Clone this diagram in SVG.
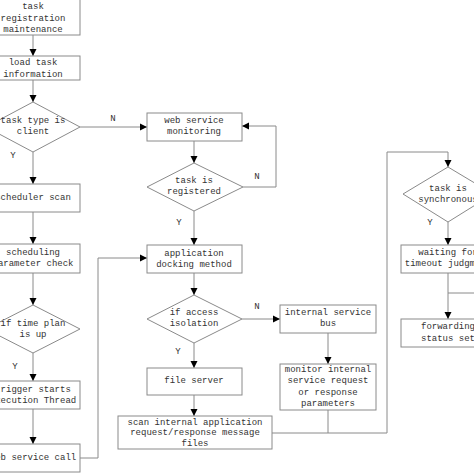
<svg xmlns="http://www.w3.org/2000/svg" width="474" height="474" viewBox="0 0 474 474">
<defs>
<style>
.b{fill:#fff;stroke:#8a8a8a;stroke-width:1}
.c{fill:none;stroke:#8a8a8a;stroke-width:1}
text{font-family:"Liberation Mono","DejaVu Sans Mono",monospace;font-size:9px;fill:#333;text-anchor:middle;dominant-baseline:central}
</style>
<marker id="ah" markerUnits="userSpaceOnUse" markerWidth="8" markerHeight="8" refX="7" refY="4" orient="auto">
<path d="M0,0.5 L7,4 L0,7.5 z" fill="#000"/>
</marker>
</defs>
<rect width="474" height="474" fill="#fff"/>
<g id="connectors">
<path class="c" d="M33,35 V56" marker-end="url(#ah)"/>
<path class="c" d="M33,80 V102" marker-end="url(#ah)"/>
<path class="c" d="M33,152 V184" marker-end="url(#ah)"/>
<path class="c" d="M33,212 V244" marker-end="url(#ah)"/>
<path class="c" d="M33,273 V305" marker-end="url(#ah)"/>
<path class="c" d="M33,353 V381" marker-end="url(#ah)"/>
<path class="c" d="M33,409 V444" marker-end="url(#ah)"/>
<path class="c" d="M80,458 H98 V258 H147" marker-end="url(#ah)"/>
<path class="c" d="M80,127 H147" marker-end="url(#ah)"/>
<path class="c" d="M194,141 V163" marker-end="url(#ah)"/>
<path class="c" d="M243,187 H276 V126 H242" marker-end="url(#ah)"/>
<path class="c" d="M194,211 V245" marker-end="url(#ah)"/>
<path class="c" d="M194,273 V295" marker-end="url(#ah)"/>
<path class="c" d="M242,319 H280" marker-end="url(#ah)"/>
<path class="c" d="M194,343 V368" marker-end="url(#ah)"/>
<path class="c" d="M194,395 V416" marker-end="url(#ah)"/>
<path class="c" d="M328,333 V364" marker-end="url(#ah)"/>
<path class="c" d="M272,433 H387 V152 H448 V167" marker-end="url(#ah)"/>
<path class="c" d="M328,410 V433"/>
<path class="c" d="M448,222 V245" marker-end="url(#ah)"/>
<path class="c" d="M448,273 V319" marker-end="url(#ah)"/>
<path class="c" d="M448,293 H474"/>
<text x="13" y="156">Y</text>
<text x="15" y="367">Y</text>
<text x="113" y="119">N</text>
<text x="257" y="177">N</text>
<text x="179" y="223">Y</text>
<text x="257" y="307">N</text>
<text x="178" y="352">Y</text>
<text x="430" y="223">Y</text>
</g>
<g id="n1"><rect class="b" x="-14" y="-3" width="94" height="38"/><text x="33" y="7">task</text><text x="33" y="19">registration</text><text x="33" y="30">maintenance</text></g>
<g id="n2"><rect class="b" x="-14" y="56" width="94" height="24"/><text x="33" y="63">load task</text><text x="33" y="75">information</text></g>
<g id="n3"><polygon class="b" points="33,102 80,127 33,152 -14,127"/><text x="33" y="121">task type is</text><text x="33" y="132">client</text></g>
<g id="n4"><rect class="b" x="-14" y="184" width="94" height="28"/><text x="33" y="198">scheduler scan</text></g>
<g id="n5"><rect class="b" x="-14" y="244" width="94" height="29"/><text x="33" y="253">scheduling</text><text x="33" y="264">parameter check</text></g>
<g id="n6"><polygon class="b" points="33,305 80,329 33,353 -14,329"/><text x="33" y="324">if time plan</text><text x="33" y="335">is up</text></g>
<g id="n7"><rect class="b" x="-14" y="381" width="94" height="28"/><text x="33" y="390">trigger starts</text><text x="33" y="401">execution Thread</text></g>
<g id="n8"><rect class="b" x="-14" y="444" width="94" height="28"/><text x="33" y="458">web service call</text></g>
<g id="n9"><rect class="b" x="147" y="113" width="95" height="28"/><text x="194" y="121">web service</text><text x="194" y="132">monitoring</text></g>
<g id="n10"><polygon class="b" points="194,163 243,187 194,211 147,187"/><text x="194" y="181">task is</text><text x="194" y="192">registered</text></g>
<g id="n11"><rect class="b" x="147" y="245" width="95" height="28"/><text x="194" y="254">application</text><text x="194" y="265">docking method</text></g>
<g id="n12"><polygon class="b" points="194,295 242,319 194,343 147,319"/><text x="194" y="313">if access</text><text x="194" y="324">isolation</text></g>
<g id="n13"><rect class="b" x="147" y="368" width="95" height="27"/><text x="194" y="381">file server</text></g>
<g id="n14"><rect class="b" x="118" y="416" width="154" height="33"/><text x="195" y="423">scan internal application</text><text x="195" y="433">request/response message</text><text x="195" y="444">files</text></g>
<g id="n15"><rect class="b" x="280" y="305" width="96" height="28"/><text x="328" y="313">internal service</text><text x="328" y="324">bus</text></g>
<g id="n16"><rect class="b" x="280" y="364" width="96" height="46"/><text x="328" y="370">monitor internal</text><text x="328" y="381">service request</text><text x="328" y="393">or response</text><text x="328" y="404">parameters</text></g>
<g id="n17"><polygon class="b" points="448,167 493,194 448,222 403,194"/><text x="448" y="189">task is</text><text x="448" y="200">synchronous</text></g>
<g id="n18"><rect class="b" x="401" y="245" width="96" height="28"/><text x="448" y="253">waiting for</text><text x="448" y="264">timeout judgment</text></g>
<g id="n19"><rect class="b" x="401" y="319" width="96" height="28"/><text x="448" y="327">forwarding</text><text x="448" y="339">status set</text></g>
</svg>
